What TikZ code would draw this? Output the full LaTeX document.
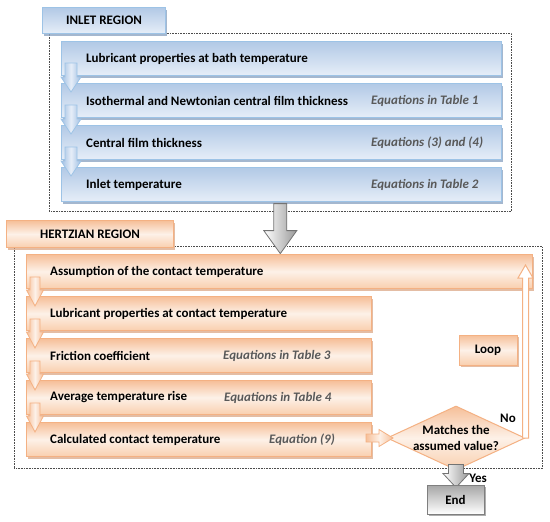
\documentclass[tikz,border=0pt]{standalone}
\usepackage{fontspec}
\setmainfont{Carlito}
\usetikzlibrary{shapes.geometric,calc,shadows}
\definecolor{bBorder}{HTML}{9DC3E6}
\definecolor{bTop}{HTML}{E6EEF8}
\definecolor{bBot}{HTML}{B2C9E6}
\definecolor{bShadow}{HTML}{8EA6C4}
\definecolor{bArrowSide}{HTML}{9EBDE2}
\definecolor{oBorder}{HTML}{F4B183}
\definecolor{oTop}{HTML}{F9CFAE}
\definecolor{oMid}{HTML}{FDF1E8}
\definecolor{oBot}{HTML}{F6BF98}
\definecolor{oShadow}{HTML}{D9A27E}
\definecolor{gBorder}{HTML}{7F7F7F}
\definecolor{eqGray}{HTML}{595959}
% note: y axis points down, so "top color" of a shading lands at the bottom
\tikzset{
  frame/.style={draw=black!70, densely dotted, line width=0.6pt, anchor=north west, inner sep=0pt},
  bluebox/.style={draw=bBorder, line width=1pt, top color=bBot, bottom color=bTop,
    drop shadow={shadow xshift=1.5pt, shadow yshift=-2pt, fill=bShadow, opacity=0.8},
    anchor=north west, inner sep=0pt, minimum height=34pt, minimum width=440pt},
  orbox/.style={draw=oBorder, line width=1pt, top color=oBot, bottom color=oTop, middle color=oMid,
    drop shadow={shadow xshift=1.5pt, shadow yshift=-2pt, fill=oShadow, opacity=0.7},
    anchor=north west, inner sep=0pt, minimum height=34pt, minimum width=345pt},
  endbox/.style={draw=gBorder, line width=1pt, top color=black!35, bottom color=white,
    drop shadow={shadow xshift=1.5pt, shadow yshift=-2pt, fill=black!45, opacity=0.7},
    inner sep=0pt},
  lbl/.style={anchor=west, inner sep=0pt},
  eq/.style={anchor=west, inner sep=0pt, text=eqGray, font=\fontsize{13}{15}\selectfont\bfseries\itshape},
  arrblue/.style={draw=bBorder, line width=0.8pt, left color=bArrowSide, right color=bArrowSide, middle color=bTop},
  arror/.style={draw=oBorder, line width=0.8pt, left color=oBot, right color=oBot, middle color=oMid},
  arrgray/.style={draw=black!55, line width=0.8pt, left color=white, right color=black!40},
  pics/dnin/.style={code={\draw[arrblue] (-6,-13) -- (6,-13) -- (6,1) -- (10,1) -- (0,16) -- (-10,1) -- (-6,1) -- cycle;}},
  pics/dnor/.style={code={\draw[arror] (-5,-12) -- (5,-12) -- (5,1) -- (8.5,1) -- (0,17) -- (-8.5,1) -- (-5,1) -- cycle;}},
  pics/bigdn/.style={code={\draw[arrgray] (-6.5,-8) -- (6.5,-8) -- (6.5,19) -- (16.5,19) -- (0,42) -- (-16.5,19) -- (-6.5,19) -- cycle;}},
  pics/enddn/.style={code={\draw[arrgray] (-7.5,-6) -- (7.5,-6) -- (7.5,3) -- (13,3) -- (0,17) -- (-13,3) -- (-7.5,3) -- cycle;}},
  pics/rtar/.style={code={\draw[arror] (-6,-4) -- (7,-4) -- (7,-8.5) -- (21,0) -- (7,8.5) -- (7,4) -- (-6,4) -- cycle;}},
  pics/upar/.style={code={\draw[draw=oBorder, line width=1pt, fill=white] (-3,0) -- (-3,-160) -- (-7.5,-160) -- (0,-173) -- (7.5,-160) -- (3,-160) -- (3,0) -- cycle;}},
}
\begin{document}
\begin{tikzpicture}[x=1pt,y=-1pt, font=\fontsize{13}{15}\selectfont\bfseries]
\useasboundingbox[fill=white] (0,0) rectangle (550,522);

% frames
\node[frame, minimum width=462pt, minimum height=178pt] (inframe) at (49,33) {};
\node[frame, minimum width=528pt, minimum height=222pt] (hzframe) at (14,246) {};

% headers
\node[bluebox, minimum width=123pt, minimum height=26pt] (inhead) at (42,7) {};
\node at (inhead.center) {INLET REGION};
\node[orbox, minimum width=167pt, minimum height=27pt] (hzhead) at (6,220) {};
\node at (hzhead.center) {HERTZIAN REGION};

% inlet boxes
\node[bluebox] (b1) at (61,41) {};
\node[bluebox] (b2) at (61,83) {};
\node[bluebox] (b3) at (61,125) {};
\node[bluebox] (b4) at (61,167) {};
\node[lbl] at ($(b1.west)+(25,0)$) {Lubricant properties at bath temperature};
\node[lbl] at ($(b2.west)+(25,0)$) {Isothermal and Newtonian central film thickness};
\node[eq] at ($(b2.west)+(310,0)$) {Equations in Table 1};
\node[lbl] at ($(b3.west)+(25,0)$) {Central film thickness};
\node[eq] at ($(b3.west)+(310,0)$) {Equations (3) and (4)};
\node[lbl] at ($(b4.west)+(25,0)$) {Inlet temperature};
\node[eq] at ($(b4.west)+(310,0)$) {Equations in Table 2};
\pic at ($(b1.south west)+(10,0)$) {dnin};
\pic at ($(b2.south west)+(10,0)$) {dnin};
\pic at ($(b3.south west)+(10,0)$) {dnin};

% big arrow
\pic at (inframe.south) {bigdn};

% hertzian boxes
\node[orbox, minimum width=506pt] (h1) at (26,254) {};
\node[orbox] (h2) at (26,296) {};
\node[orbox] (h3) at (26,338) {};
\node[orbox] (h4) at (26,380) {};
\node[orbox] (h5) at (26,422) {};
\node[lbl] at ($(h1.west)+(24,0)$) {Assumption of the contact temperature};
\node[lbl] at ($(h2.west)+(24,0)$) {Lubricant properties at contact temperature};
\node[lbl] at ($(h3.west)+(24,0)$) {Friction coefficient};
\node[eq] at ($(h3.west)+(197,0)$) {Equations in Table 3};
\node[lbl] at ($(h4.west)+(24,0)$) {Average temperature rise};
\node[eq] at ($(h4.west)+(198,0)$) {Equations in Table 4};
\node[lbl] at ($(h5.west)+(24,0)$) {Calculated contact temperature};
\node[eq] at ($(h5.west)+(243,0)$) {Equation (9)};
\pic at ($(h1.south west)+(9,0)$) {dnor};
\pic at ($(h2.south west)+(9,0)$) {dnor};
\pic at ($(h3.south west)+(9,0)$) {dnor};
\pic at ($(h4.south west)+(9,0)$) {dnor};

% loop
\node[orbox, anchor=center, minimum width=58pt, minimum height=30pt] (loop) at (488,350) {Loop};

% decision
\node[diamond, draw=oBorder, line width=1pt, top color=oBot, bottom color=oTop, middle color=oMid,
  minimum width=138pt, minimum height=64pt, inner sep=0pt] (dia) at (456,438) {};
\node[align=center, inner sep=0pt] at (dia.center) {Matches the\\[1pt]assumed value?};
\pic at (h5.east |- dia.west) {rtar};
\pic at (dia.east) {upar};
\node[inner sep=0pt] (no) at (508,418) {No};

% end
\pic at (dia.south) {enddn};
\node[endbox, minimum width=57pt, minimum height=29pt] (endn) at (455.5,499.5) {End};
\node[inner sep=0pt] (yes) at (478,478) {Yes};
\end{tikzpicture}
\end{document}
